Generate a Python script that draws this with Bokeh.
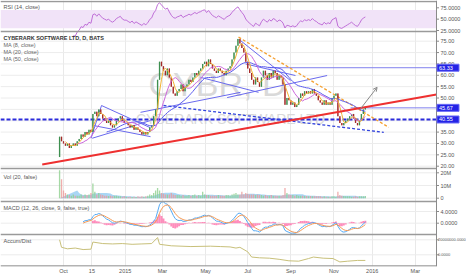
import numpy as np
import pandas as pd
from bokeh.plotting import figure
from bokeh.models import Range1d, FixedTicker, Arrow, OpenHead
from bokeh.embed import file_html
from bokeh.resources import INLINE
from bokeh.core.properties import value

# ---------------- data ----------------
# x = trading-day index (0 = 1 Oct 2014), one sample every 2 trading days
start_idx = -4
step = 2
first_open = 24.0
closes = [33, 31, 30, 29, 30, 28, 29, 30, 29, 31,
          32, 34, 33, 35, 34, 36, 35,
          43, 44, 42, 45, 43,
          41, 40, 39, 40, 38, 37, 38,
          40, 41, 42, 40, 39,
          39, 38, 37, 38, 36, 37, 36, 35, 34, 35, 34,
          35, 37, 38, 42, 45,
          58, 66,
          64, 62, 60, 63, 59,
          55, 52, 51, 53,
          54, 56, 53, 55, 56, 58, 57,
          59, 61, 60, 62, 63,
          65, 66, 64, 67, 65, 63,
          62, 61, 63, 62, 61, 60, 62, 63, 64,
          67, 70, 73, 76, 74, 72, 70,
          66, 63, 61,
          58, 56, 59, 57, 55,
          59, 62, 60, 58, 61, 59, 62, 61, 58, 60, 59,
          56,
          47, 50,
          49, 47, 48, 46, 47,
          50, 52, 51, 53, 52,
          53, 52, 54, 52, 51,
          49, 48, 47, 49, 47, 48, 47,
          50, 51, 52,
          42, 39,
          38, 39, 40, 41,
          42, 43, 41,
          39, 38, 40,
          43, 45, 46]
volumes_m = [22, 15, 6, 4, 3, 2.5, 2, 3, 2, 2,
             2, 3, 2, 3, 2.5, 3, 4,
             11.5, 5, 3, 4, 3,
             2.5, 2, 2, 1.8, 2, 1.5, 2,
             2, 1.5, 1.5, 1.2, 1.5,
             1.2, 1, 1.2, 1, 1.2, 1, 1.5, 1.2, 1.5, 1.2, 1.5,
             2, 3, 2.5, 4, 6,
             8, 6,
             4, 3.5, 3, 3, 3,
             4, 3, 2.5, 2.5,
             2.5, 2, 2.5, 2, 2, 2.5, 2,
             2.5, 3, 2, 2.5, 2,
             5, 3, 2.5, 2.5, 2, 2,
             2, 2, 2.5, 2, 2, 2, 2.5, 2.5, 2,
             3, 3.5, 4, 3, 3, 5, 3,
             4, 3.5, 3,
             3, 3, 2.5, 3, 2.5,
             2.5, 2, 2.5, 2, 2, 2.5, 2, 2, 2, 2, 2,
             2.5,
             8, 4,
             3, 2.5, 2.5, 2, 2.5,
             2, 2, 2, 1.8, 1.8,
             1.5, 1.8, 1.5, 1.5, 1.5,
             1.5, 1.5, 1.2, 1.5, 1.2, 1.2, 1.2,
             1.5, 1.5, 1.2,
             5, 2.5,
             2, 1.8, 1.5, 1.5,
             1.5, 1.2, 1.2,
             1.5, 1.2, 1.5,
             1.5, 1.5, 1.8]
ad_idx = [-4, -2, 4, 12, 20, 28, 30, 40, 50, 60, 70, 80, 90, 96, 98, 110, 130, 150,
          160, 170, 176, 180, 188, 192, 200, 210, 220, 225, 230, 240, 250, 255, 265,
          275, 282, 290, 300, 308]
ad_vals_m = [20, 10, 8, 9, 7, 7.5, 17, 15, 14.5, 15, 14, 14.5, 15, 23, 14, 12, 11, 11.5,
             11, 10.5, 9, 10, 4, -3, -4, -4.5, -6, -7, -8, -8.5, -5, -3, -4.5,
             -5, -9.5, -8.5, -7.5, -7.5]

xtick_pos = [0, 29, 63, 101, 145, 188, 232, 276, 315, 359]
xtick_labels = ["Oct", "15", "2015", "Mar", "May", "Jul", "Sep", "Nov", "2016", "Mar"]
price_ticks = [20, 25, 30, 35, 40, 45, 50, 55, 60, 65, 70, 75]
rsi_ticks = [25, 50, 75]
vol_ticks = [0, 10, 20]
vol_tick_labels = ["0", "10M", "20M"]
macd_ticks = [0, 4]
ad_ticks = [0, 20]
ad_tick_labels = ["0.0000", "20000000.0000"]

tag_levels = [63.33, 45.67, 40.55]
# drawn trend lines: (idx0, price0, idx1, price1)
red_line = (-21.7, 20.7, 380.6, 51.5)
orange_dashed = (178.6, 76.8, 331.9, 37.1)
blue_dashed = (102.0, 46.7, 326.8, 34.9)
thin_lines = [(28.1, 32.3, 38.8, 46.7), (38.8, 46.7, 88.8, 36.9),
              (29.3, 32.3, 88.8, 40.1), (30.6, 37.9, 88.8, 33.0),
              (78.6, 43.7, 180.6, 52.5), (139.8, 59.1, 199.0, 52.5),
              (167.0, 50.2, 269.0, 59.9), (185.7, 65.0, 236.7, 59.9),
              (180.6, 75.3, 231.6, 57.7)]
level_starts = [209.0, 293.0, -64.3]
arrow_line = (303.0, 45.2, 320.0, 54.7)

# ---------------- derived series ----------------
n = len(closes)
assert len(volumes_m) == n
xs = np.array([start_idx + step * i for i in range(n)], dtype=float)
c = pd.Series(closes, dtype=float)
o = c.shift(1).fillna(first_open)
up = (c >= o).values
ma8 = c.rolling(4).mean()
ma20 = c.rolling(10).mean()
ma50 = c.rolling(25).mean()
d = c.diff()
g = d.clip(lower=0).ewm(alpha=1 / 12, adjust=False).mean()
l = (-d.clip(upper=0)).ewm(alpha=1 / 12, adjust=False).mean()
rsi = 100 - 100 / (1 + g / l.replace(0, np.nan))
rsi[:7] = np.nan
fast = c.ewm(span=6, adjust=False).mean()
slow = c.ewm(span=13, adjust=False).mean()
macd = fast - slow
sig = macd.ewm(span=4.5, adjust=False).mean()
hist = macd - sig
macd[:12] = np.nan
sig[:12] = np.nan
hist[:17] = np.nan
vol = pd.Series(volumes_m, dtype=float)
vma = vol.rolling(10).mean()

# ---------------- layout geometry ----------------
W, H = 466, 266
PXB, X0PX = 0.98, 63.0
def ix(px):
    return (px - X0PX) / PXB

panels = {
    "rsi": ((75, 7.3), (25, 30.0)),
    "price": ((75, 40.7), (20, 165.7)),
    "vol": ((20, 172.3), (0, 197.7)),
    "macd": ((4, 211.0), (0, 222.7)),
    "ad": ((20, 239.3), (0, 254.3)),
}

p = figure(frame_width=W, frame_height=H, x_range=Range1d(ix(0), ix(W)),
           y_range=Range1d(H, 0), y_axis_location=None, output_backend="svg",
           toolbar_location=None, min_border=0, background_fill_color="white")
p.outline_line_color = None
for name, ((v1, p1), (v2, p2)) in panels.items():
    s = (v2 - v1) / (p2 - p1)
    p.extra_y_ranges[name] = Range1d(v1 + (H - p1) * s, v1 - p1 * s)

FONT = value("Liberation Sans")
XR = ix(436)
XL = ix(0)

# x axis
p.xaxis.ticker = FixedTicker(ticks=xtick_pos)
p.xaxis.major_label_overrides = dict(zip(xtick_pos, xtick_labels))
p.xaxis.major_tick_line_color = None
p.xaxis.major_tick_out = 0
p.xaxis.major_tick_in = 0
p.xaxis.minor_tick_line_color = None
p.xaxis.minor_tick_out = 0
p.xaxis.axis_line_color = None
p.xaxis.major_label_text_font_size = "5.5px"
p.xaxis.major_label_text_color = "#555555"
p.xaxis.major_label_text_font = "Liberation Sans"
p.xaxis.major_label_standoff = 1
p.xgrid.ticker = FixedTicker(ticks=xtick_pos)
p.xgrid.grid_line_color = "#e9e9e9"
p.ygrid.visible = False

# horizontal grid lines per panel
grids = {"price": price_ticks, "rsi": [50], "vol": vol_ticks, "macd": macd_ticks, "ad": ad_ticks}
for name, ticks in grids.items():
    p.segment(x0=XL, x1=XR, y0=ticks, y1=ticks, line_color="#ececec", line_width=1,
              y_range_name=name)

# watermark
p.text(x=[ix(217)], y=[83], text=["CYBR, D"], text_font=FONT, text_font_size="34px",
       text_color="#d9d9d9", text_align="center", text_baseline="middle")
p.text(x=[ix(230)], y=[118], text=["CYBERARK SOFTWARE LTD"], text_font=FONT,
       text_font_size="14px", text_color="#d9d9d9", text_align="center",
       text_baseline="middle")

# RSI
p.varea(x=[XL, XR], y1=[30, 30], y2=[70, 70], fill_color="#f1e3f8", y_range_name="rsi")
p.line(xs, rsi, line_color="#c070d8", line_width=1, y_range_name="rsi")

# price: drawings behind candles
p.segment(x0=[level_starts[2]], y0=[tag_levels[2]], x1=[XR], y1=[tag_levels[2]],
          line_color="#2b2bdb", line_width=2, line_dash="4 2", y_range_name="price")
p.segment(x0=level_starts[:2], y0=tag_levels[:2], x1=[XR, XR], y1=tag_levels[:2],
          line_color="#8080ee", line_width=1, y_range_name="price")
tl = list(zip(*thin_lines))
p.segment(x0=tl[0], y0=tl[1], x1=tl[2], y1=tl[3], line_color="#6a6aee", line_width=1,
          y_range_name="price")
p.segment(x0=[blue_dashed[0]], y0=[blue_dashed[1]], x1=[blue_dashed[2]], y1=[blue_dashed[3]],
          line_color="#3344dd", line_width=1.3, line_dash="3 2", y_range_name="price")
p.segment(x0=[orange_dashed[0]], y0=[orange_dashed[1]], x1=[orange_dashed[2]],
          y1=[orange_dashed[3]], line_color="#f5a030", line_width=1.3, line_dash="3 2",
          y_range_name="price")

# candles
top = np.maximum(o.values, c.values)
bot = np.minimum(o.values, c.values)
cols = np.where(up, "#3d8f4f", "#a52a2a")
p.segment(x0=xs, y0=bot, x1=xs, y1=top, line_color=cols, line_width=0.6, y_range_name="price")
p.vbar(x=xs, top=top, bottom=bot, width=1.35, fill_color=cols, line_color=None,
       y_range_name="price")

# moving averages
p.line(xs, ma50, line_color="#5a5aee", line_width=1, y_range_name="price")
p.line(xs, ma20, line_color="#cc66dd", line_width=1, y_range_name="price")
p.line(xs, ma8, line_color="#f2b233", line_width=1, y_range_name="price")

# red trend line on top
p.segment(x0=[red_line[0]], y0=[red_line[1]], x1=[red_line[2]], y1=[red_line[3]],
          line_color="#ee3030", line_width=2, y_range_name="price")
p.add_layout(Arrow(end=OpenHead(size=4, line_color="#888888", line_width=1),
                   x_start=arrow_line[0], y_start=arrow_line[1], x_end=arrow_line[2],
                   y_end=arrow_line[3], line_color="#888888", line_width=1,
                   y_range_name="price"))

# volume
vcols = np.where(up, "#8fd08f", "#ec9a9a")
p.varea(x=xs, y1=0, y2=vma, fill_color="#62b4ec", fill_alpha=0.55, y_range_name="vol")
p.vbar(x=xs, top=vol, bottom=0, width=1.35, fill_color=vcols, fill_alpha=0.8,
       line_color=None, y_range_name="vol")

# MACD
p.vbar(x=xs, top=hist, bottom=0, width=2.0, fill_color="#ff5ca0", fill_alpha=0.7,
       line_color=None, y_range_name="macd")
p.line(xs, macd, line_color="#55aaf5", line_width=1, y_range_name="macd")
p.line(xs, sig, line_color="#f59a55", line_width=1, y_range_name="macd")

# Accum/Dist
p.line(ad_idx, ad_vals_m, line_color="#c8c07a", line_width=1, y_range_name="ad")

# panel borders and right axis line
borders = [1, 31, 168, 201, 234, 265.5]
p.segment(x0=XL, x1=XR, y0=borders, y1=borders, line_color="#9a9a9a", line_width=1.5)
p.segment(x0=[XR], x1=[XR], y0=[0], y1=[H], line_color="#8a8a8a", line_width=1)

# right axis labels
def right_labels(name, ticks, labels, size="5.5px", px=440):
    p.segment(x0=XR, x1=ix(438.5), y0=ticks, y1=ticks, line_color="#8a8a8a",
              y_range_name=name)
    p.text(x=ix(px), y=ticks, text=labels, text_font=FONT, text_font_size=size,
           text_color="#555555", text_baseline="middle", y_range_name=name)

right_labels("price", price_ticks, ["%.2f" % t for t in price_ticks])
right_labels("rsi", rsi_ticks, ["%.4f" % t for t in rsi_ticks])
right_labels("vol", vol_ticks, vol_tick_labels)
right_labels("macd", macd_ticks, ["%.4f" % t for t in macd_ticks])
right_labels("ad", ad_ticks, ad_tick_labels, size="4px", px=437.5)

# price tags
p.rect(x=ix(447.5), y=tag_levels, width=22, height=7, width_units="screen",
       height_units="screen", fill_color="#2323e6", line_color="#6a6af5",
       y_range_name="price")
p.text(x=ix(438.5), y=tag_levels, text=["%.2f" % t for t in tag_levels], text_font=FONT,
       text_font_size="5.5px", text_color="white", text_baseline="middle",
       y_range_name="price")

# pane titles
titles = [(6, "RSI (14, close)", "#555555", "normal"),
          (37, "CYBERARK SOFTWARE LTD, D, BATS", "#333333", "bold"),
          (44.5, "MA (8, close)", "#666666", "normal"),
          (51.5, "MA (20, close)", "#666666", "normal"),
          (58.5, "MA (50, close)", "#666666", "normal"),
          (176, "Vol (20, false)", "#555555", "normal"),
          (207, "MACD (12, 26, close, 9, false, true)", "#555555", "normal"),
          (240, "Accum/Dist", "#555555", "normal")]
for yy, t, col, st in titles:
    p.text(x=[ix(3)], y=[yy], text=[t], text_font=FONT, text_font_size="5.5px",
           text_color=col, text_font_style=st, text_baseline="middle")

open("out.html", "w").write(file_html(p, INLINE))
